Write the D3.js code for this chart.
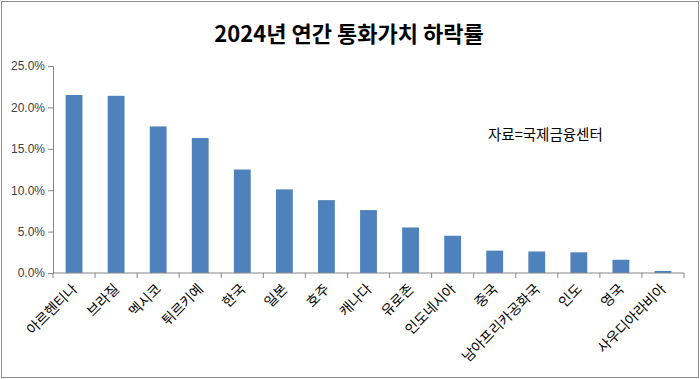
<!DOCTYPE html>
<html><head><meta charset="utf-8">
<script src="https://cdn.jsdelivr.net/npm/d3@7"></script>
<style>body{margin:0;background:#fff}svg{display:block}</style>
</head><body>
<script>
const categories = ["아르헨티나","브라질","멕시코","튀르키예","한국","일본","호주","캐나다","유로존","인도네시아","중국","남아프리카공화국","인도","영국","사우디아라비아"];
const values = [21.5, 21.4, 17.7, 16.3, 12.5, 10.1, 8.8, 7.6, 5.5, 4.5, 2.7, 2.6, 2.5, 1.6, 0.25];
const yTicks = [0, 5, 10, 15, 20, 25];
const title = "2024년 연간 통화가치 하락률";
const note = "자료=국제금융센터";

const W = 700, H = 379;
const svg = d3.select("body").append("svg").attr("width", W).attr("height", H);
svg.append("rect").attr("x", 1.5).attr("y", 1.5).attr("width", W - 3).attr("height", H - 3)
  .attr("fill", "#fff").attr("stroke", "#8c8c8c").attr("stroke-width", 1);

const x = d3.scaleBand().domain(categories).range([53, 684]).paddingInner(0.6).paddingOuter(0.3);
const y = d3.scaleLinear().domain([0, 25]).range([273, 66]);
const font = "'Noto Sans CJK KR', 'Noto Sans', sans-serif";

svg.append("text").attr("x", 349).attr("y", 42).attr("text-anchor", "middle")
  .attr("font-family", font).attr("font-weight", "bold").attr("font-size", 22).attr("fill", "#000").text(title);

// y axis
const ya = svg.append("g").attr("transform", "translate(53,0)")
  .call(d3.axisLeft(y).tickValues(yTicks).tickSize(5).tickSizeOuter(0).tickFormat(d => d.toFixed(1) + "%"));
ya.select(".domain").attr("stroke", "#868686");
ya.selectAll(".tick line").attr("stroke", "#868686");
ya.selectAll(".tick text").attr("font-family", "'Liberation Sans', Arial, sans-serif").attr("font-size", 12).attr("fill", "#404040").attr("x", -8);

// bars
svg.append("g").selectAll("rect").data(values).join("rect")
  .attr("x", (d, i) => x(categories[i]))
  .attr("width", x.bandwidth())
  .attr("y", d => y(d))
  .attr("height", d => y(0) - y(d))
  .attr("fill", "#4f81bd");

// x axis
const xa = svg.append("g").attr("transform", "translate(0,273)");
xa.append("line").attr("x1", 53).attr("x2", 684).attr("stroke", "#868686");
const bounds = d3.range(categories.length + 1).map(i => 53 + i * (631 / categories.length));
xa.selectAll("line.tk").data(bounds).join("line").attr("class", "tk")
  .attr("x1", d => d).attr("x2", d => d).attr("y1", 0).attr("y2", 5).attr("stroke", "#868686");
xa.selectAll("text").data(categories).join("text")
  .attr("transform", d => `translate(${x(d) + x.bandwidth() / 2 + 4},${17}) rotate(-45)`)
  .attr("text-anchor", "end")
  .attr("font-family", font).attr("font-size", 14).attr("fill", "#000")
  .text(d => d);

svg.append("text").attr("x", 488).attr("y", 140).attr("font-family", font).attr("font-size", 14.5).attr("fill", "#000").text(note);
</script>
</body></html>
